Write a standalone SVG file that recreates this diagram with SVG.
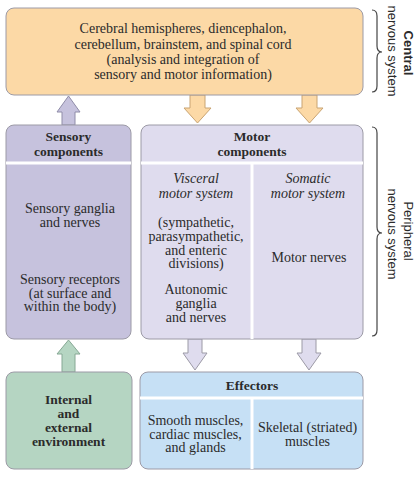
<svg xmlns="http://www.w3.org/2000/svg" width="419" height="477" viewBox="0 0 419 477">
<style>
.box{stroke:#9c9aa6;stroke-width:1}
.sep{stroke:#ffffff;stroke-width:3;fill:none}
.t{font-family:"Liberation Serif","Times New Roman",serif;font-size:14px;fill:#2b2b2b;text-anchor:middle}
.b{font-weight:bold;font-size:13.5px}
.i{font-style:italic}
.side{font-family:"Liberation Sans",Arial,sans-serif;font-size:13px;fill:#2b2b2b;text-anchor:middle}
.brace{fill:none;stroke:#444;stroke-width:1.2}
.arr{stroke-width:1;stroke-linejoin:miter}
</style>
<rect width="419" height="477" fill="#ffffff"/>

<g id="connectors">
  <path class="arr" fill="#c6c2dd" stroke="#8f8ca8" d="M62,125 L62,112 L57,112 L68.5,96 L80,112 L75,112 L75,125 Z"/>
  <path class="arr" fill="#fcd9a6" stroke="#c9a472" d="M190,95 L190,108 L184,108 L197.5,123 L211,108 L205,108 L205,95 Z"/>
  <path class="arr" fill="#fcd9a6" stroke="#c9a472" d="M302,95 L302,108 L296,108 L309.5,123 L323,108 L317,108 L317,95 Z"/>
  <path class="arr" fill="#dfdcee" stroke="#9c9aa6" d="M188,339 L188,353 L183,353 L195,370 L207,353 L202,353 L202,339 Z"/>
  <path class="arr" fill="#dfdcee" stroke="#9c9aa6" d="M302,339 L302,353 L297,353 L309,370 L321,353 L316,353 L316,339 Z"/>
  <path class="arr" fill="#b5d5c2" stroke="#86a894" d="M62,372 L62,354 L57,354 L68.5,340 L80,354 L75,354 L75,372 Z"/>
</g>

<g id="cns">
  <rect class="box" x="6" y="8" width="357" height="87" rx="8" fill="#fcd9a6" stroke="#b9a58a"/>
  <text class="t" x="183" y="33">Cerebral hemispheres, diencephalon,</text>
  <text class="t" x="183" y="48.5">cerebellum, brainstem, and spinal cord</text>
  <text class="t" x="183" y="64">(analysis and integration of</text>
  <text class="t" x="183" y="79">sensory and motor information)</text>
</g>

<g id="sensory">
  <rect class="box" x="6" y="125" width="125" height="214" rx="8" fill="#c6c2dd"/>
  <line class="sep" x1="6" y1="163" x2="131" y2="163"/>
  <text class="t b" x="68.5" y="141">Sensory</text>
  <text class="t b" x="68.5" y="156">components</text>
  <text class="t" x="70" y="213">Sensory ganglia</text>
  <text class="t" x="70" y="227">and nerves</text>
  <text class="t" x="70" y="284">Sensory receptors</text>
  <text class="t" x="70" y="297.5">(at surface and</text>
  <text class="t" x="70" y="311">within the body)</text>
</g>

<g id="motor">
  <rect class="box" x="141" y="125" width="222" height="214" rx="8" fill="#dfdcee"/>
  <line class="sep" x1="141" y1="163" x2="363" y2="163"/>
  <line class="sep" x1="252" y1="163" x2="252" y2="339"/>
  <text class="t b" x="252" y="141">Motor</text>
  <text class="t b" x="252" y="156">components</text>
  <text class="t i" x="196" y="183">Visceral</text>
  <text class="t i" x="196" y="198">motor system</text>
  <text class="t" x="196" y="227">(sympathetic,</text>
  <text class="t" x="196" y="241">parasympathetic,</text>
  <text class="t" x="196" y="254.5">and enteric</text>
  <text class="t" x="196" y="268">divisions)</text>
  <text class="t" x="196" y="294">Autonomic</text>
  <text class="t" x="196" y="308">ganglia</text>
  <text class="t" x="196" y="321.5">and nerves</text>
  <text class="t i" x="308" y="183">Somatic</text>
  <text class="t i" x="308" y="198">motor system</text>
  <text class="t" x="309" y="262">Motor nerves</text>
</g>

<g id="environment">
  <rect class="box" x="6" y="372" width="126" height="97" rx="8" fill="#b5d5c2"/>
  <text class="t b" x="68.5" y="404">Internal</text>
  <text class="t b" x="68.5" y="418">and</text>
  <text class="t b" x="68.5" y="432">external</text>
  <text class="t b" x="68.5" y="446">environment</text>
</g>

<g id="effectors">
  <rect class="box" x="140" y="372" width="223" height="97" rx="8" fill="#c6e0f5"/>
  <line class="sep" x1="140" y1="398" x2="363" y2="398"/>
  <line class="sep" x1="252" y1="398" x2="252" y2="469"/>
  <text class="t b" x="252" y="390">Effectors</text>
  <text class="t" x="195.5" y="425">Smooth muscles,</text>
  <text class="t" x="195.5" y="438.5">cardiac muscles,</text>
  <text class="t" x="195.5" y="452">and glands</text>
  <text class="t" x="307.5" y="432">Skeletal (striated)</text>
  <text class="t" x="307.5" y="446">muscles</text>
</g>

<g id="cns-label">
  <path class="brace" d="M372,10 Q377,10 377,16 L377,46 Q377,52 382,52 Q377,52 377,58 L377,86 Q377,92 372,92"/>
  <text class="side" font-weight="bold" transform="translate(404,53) rotate(90)">Central</text>
  <text class="side" transform="translate(388,51) rotate(90)">nervous system</text>
</g>

<g id="pns-label">
  <path class="brace" d="M372,127 Q377,127 377,133 L377,227 Q377,233 382,233 Q377,233 377,239 L377,330 Q377,336 372,336"/>
  <text class="side" font-family="Liberation Serif, serif" font-size="13.5" transform="translate(404,231) rotate(90)">Peripheral</text>
  <text class="side" transform="translate(388,234) rotate(90)">nervous system</text>
</g>
</svg>
